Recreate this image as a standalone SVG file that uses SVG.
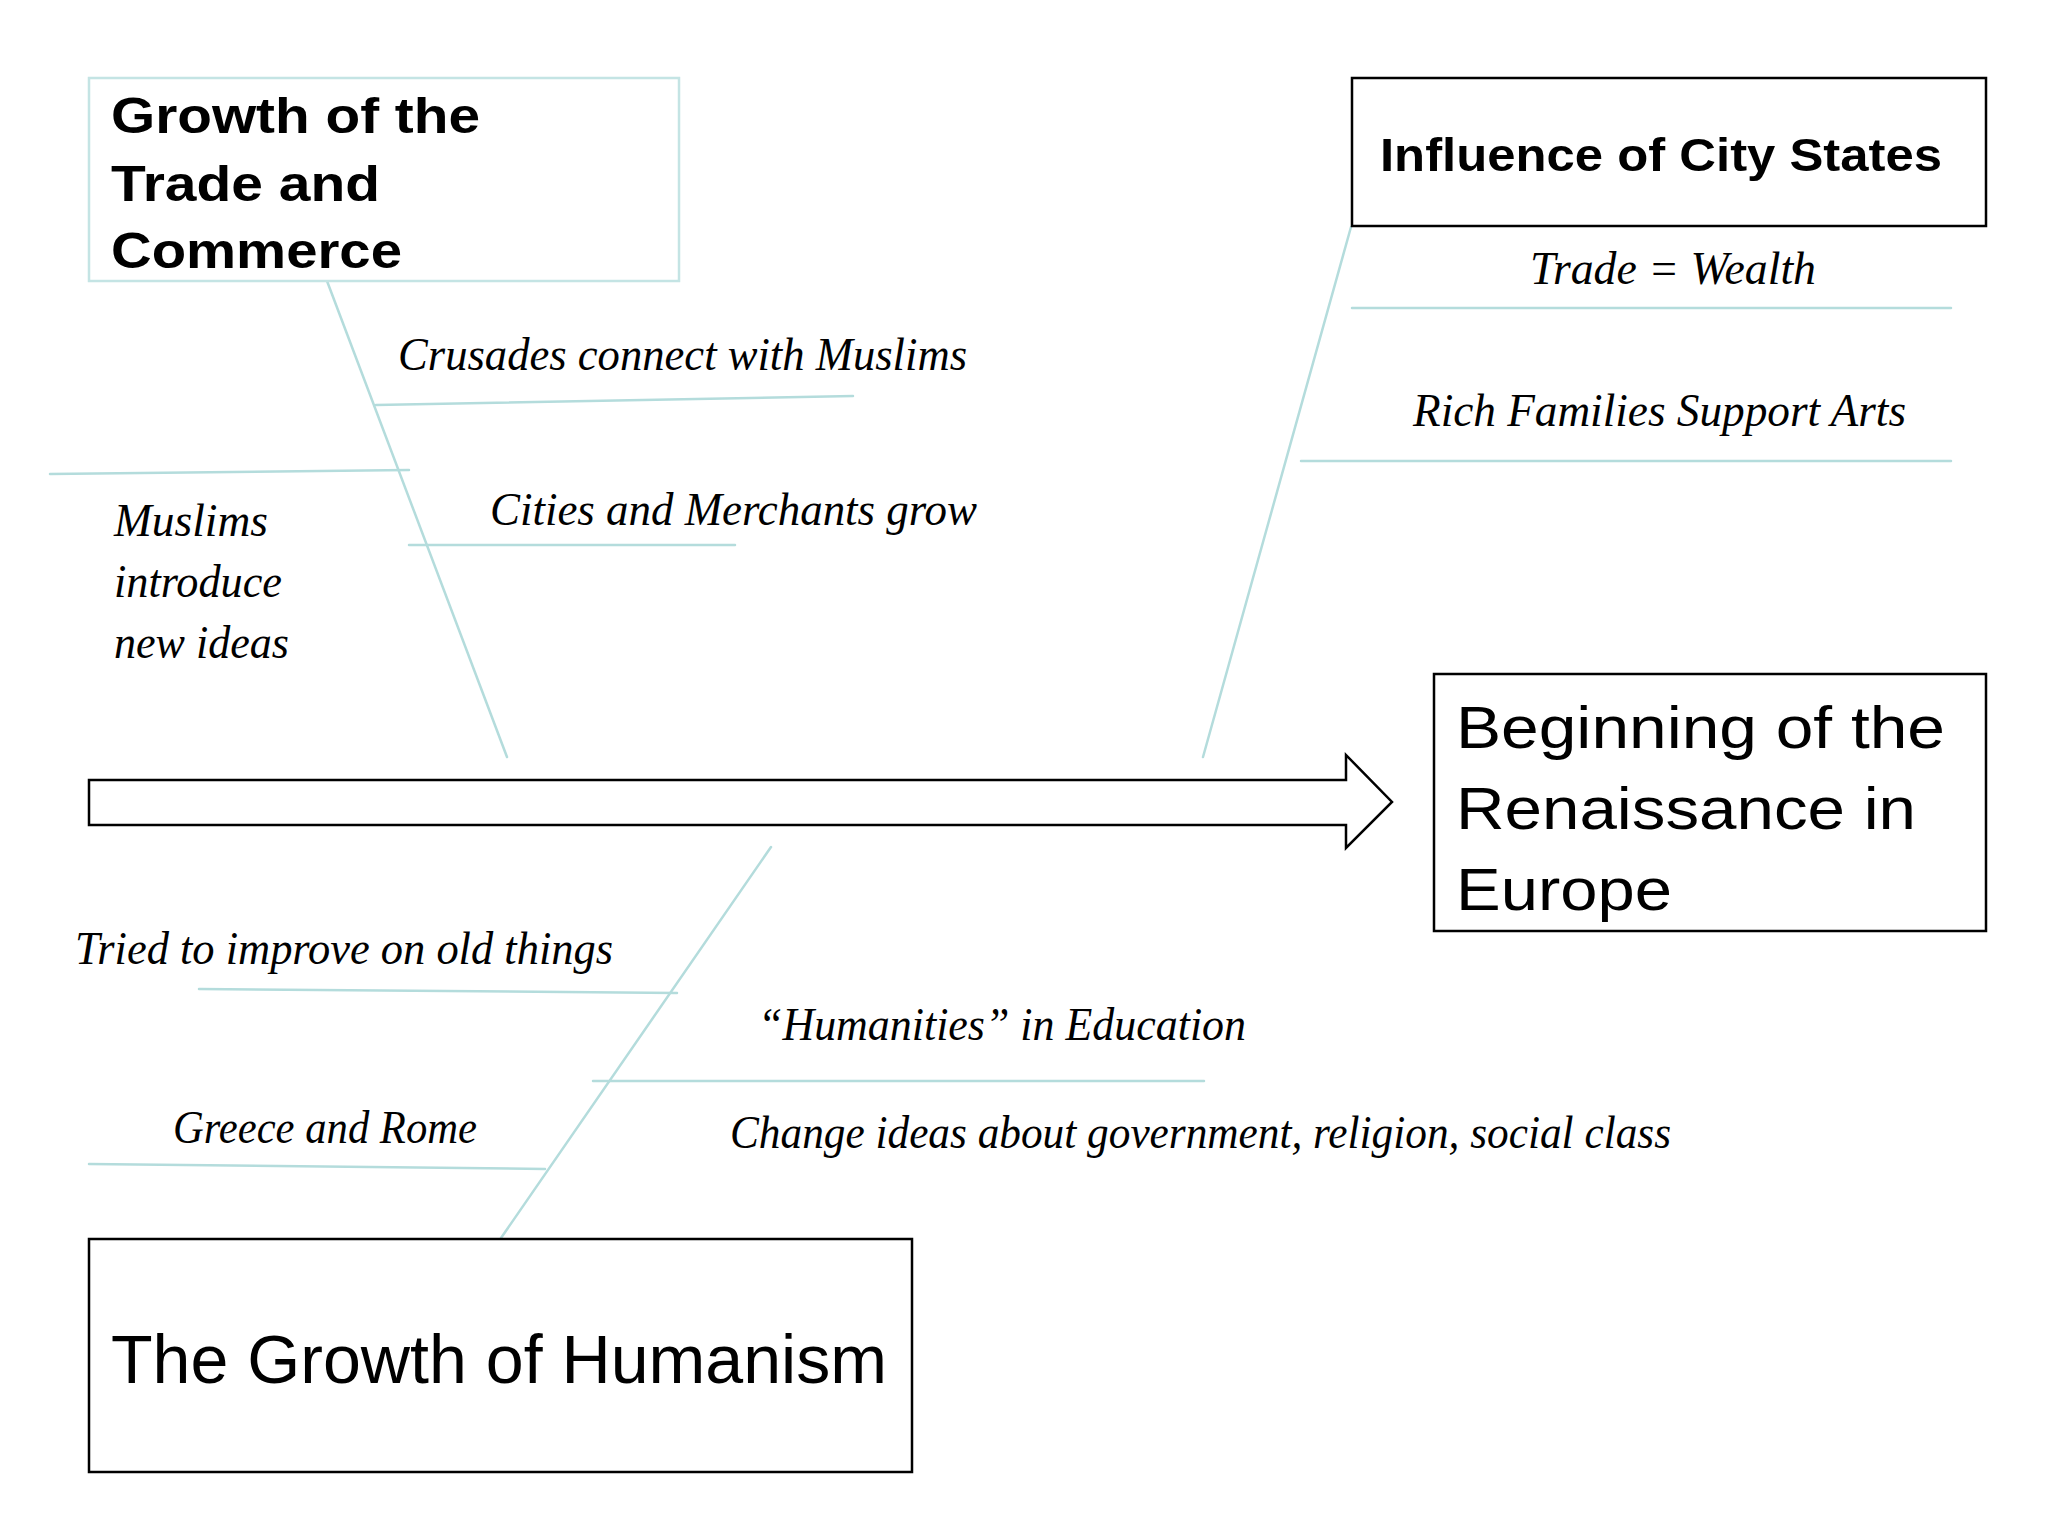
<svg xmlns="http://www.w3.org/2000/svg" width="2048" height="1536" viewBox="0 0 2048 1536">
<style>
.box{fill:#ffffff;stroke:#000000;stroke-width:2.5}
.tbox{fill:#ffffff;stroke:#c4e4e4;stroke-width:2.5}
.bone{stroke:#b4dcdc;stroke-width:2.5;fill:none;stroke-linecap:round}
.head{font-family:"Liberation Sans",Arial,sans-serif;font-weight:bold;fill:#000}
.big{font-family:"Liberation Sans",Arial,sans-serif;fill:#000}
.note{font-family:"Liberation Serif","Times New Roman",serif;font-style:italic;font-size:47px;fill:#000}
</style>
<rect width="2048" height="1536" fill="#ffffff"/>
<g id="connectors">
<line class="bone" x1="327" y1="281" x2="507" y2="757"/>
<line class="bone" x1="376" y1="405" x2="853" y2="396"/>
<line class="bone" x1="50" y1="474" x2="409" y2="470"/>
<line class="bone" x1="409" y1="545" x2="735" y2="545"/>
<line class="bone" x1="1351" y1="227" x2="1203" y2="757"/>
<line class="bone" x1="1352" y1="308" x2="1951" y2="308"/>
<line class="bone" x1="1301" y1="461" x2="1951" y2="461"/>
<line class="bone" x1="771" y1="847" x2="501" y2="1238"/>
<line class="bone" x1="199" y1="989" x2="677" y2="993"/>
<line class="bone" x1="593" y1="1081" x2="1204" y2="1081"/>
<line class="bone" x1="89" y1="1164" x2="545" y2="1169"/>
</g>
<g id="spine">
<polygon class="box" points="89,780 1346,780 1346,755 1392,802 1346,848 1346,825 89,825"/>
</g>
<g id="node-trade">
<rect class="tbox" x="89" y="78" width="590" height="203"/>
<text class="head" font-size="50" x="111" y="133" textLength="369" lengthAdjust="spacingAndGlyphs">Growth of the</text>
<text class="head" font-size="50" x="111" y="201" textLength="269" lengthAdjust="spacingAndGlyphs">Trade and</text>
<text class="head" font-size="50" x="111" y="268" textLength="291" lengthAdjust="spacingAndGlyphs">Commerce</text>
</g>
<g id="node-city">
<rect class="box" x="1352" y="78" width="634" height="148"/>
<text class="head" font-size="47" x="1380" y="171" textLength="562" lengthAdjust="spacingAndGlyphs">Influence of City States</text>
</g>
<g id="node-renaissance">
<rect class="box" x="1434" y="674" width="552" height="257"/>
<text class="big" font-size="60" x="1456" y="748" textLength="489" lengthAdjust="spacingAndGlyphs">Beginning of the</text>
<text class="big" font-size="60" x="1456" y="829" textLength="460" lengthAdjust="spacingAndGlyphs">Renaissance in</text>
<text class="big" font-size="60" x="1456" y="910" textLength="216" lengthAdjust="spacingAndGlyphs">Europe</text>
</g>
<g id="node-humanism">
<rect class="box" x="89" y="1239" width="823" height="233"/>
<text class="big" font-size="69" x="111" y="1383" textLength="776" lengthAdjust="spacingAndGlyphs">The Growth of Humanism</text>
</g>
<g id="labels">
<text class="note" x="398" y="370" textLength="569" lengthAdjust="spacingAndGlyphs">Crusades connect with Muslims</text>
<text class="note" x="490" y="525" textLength="487" lengthAdjust="spacingAndGlyphs">Cities and Merchants grow</text>
<text class="note" x="114" y="536" textLength="154" lengthAdjust="spacingAndGlyphs">Muslims</text>
<text class="note" x="114" y="597" textLength="168" lengthAdjust="spacingAndGlyphs">introduce</text>
<text class="note" x="114" y="658" textLength="175" lengthAdjust="spacingAndGlyphs">new ideas</text>
<text class="note" x="1530" y="284" textLength="286" lengthAdjust="spacingAndGlyphs">Trade = Wealth</text>
<text class="note" x="1413" y="426" textLength="493" lengthAdjust="spacingAndGlyphs">Rich Families Support Arts</text>
<text class="note" x="75" y="964" textLength="538" lengthAdjust="spacingAndGlyphs">Tried to improve on old things</text>
<text class="note" x="758" y="1040" textLength="488" lengthAdjust="spacingAndGlyphs">“Humanities” in Education</text>
<text class="note" x="173" y="1143" textLength="304" lengthAdjust="spacingAndGlyphs">Greece and Rome</text>
<text class="note" x="730" y="1148" textLength="941" lengthAdjust="spacingAndGlyphs">Change ideas about government, religion, social class</text>
</g>
</svg>
